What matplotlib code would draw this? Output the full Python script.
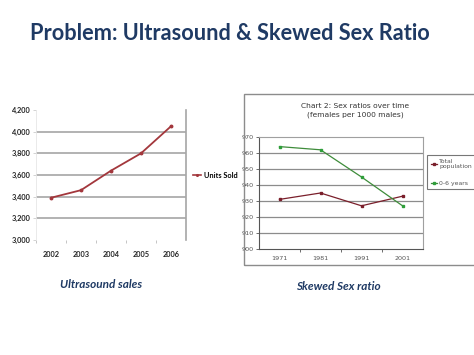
import matplotlib
matplotlib.use("Agg")
import matplotlib.pyplot as plt
from matplotlib.patches import Rectangle
from matplotlib.lines import Line2D

# Ultrasound sales
sales_years = ["2002", "2003", "2004", "2005", "2006"]
units_sold = [3390, 3460, 3640, 3800, 4050]
sales_ticks = [3000, 3200, 3400, 3600, 3800, 4000, 4200]

# Sex ratio (females per 1000 males)
census_years = ["1971", "1981", "1991", "2001"]
total_population = [931, 935, 927, 933]
age_0_6 = [964, 962, 945, 927]
ratio_ticks = [900, 910, 920, 930, 940, 950, 960, 970]

W, H = 474, 355
NAVY = "#1F3A64"
RED = "#A3373C"
GREEN = "#3E8C3A"
MAROON = "#7A1F2B"
NARROW = ["Liberation Sans Narrow", "DejaVu Sans"]

plt.rcParams["font.family"] = ["Lato", "DejaVu Sans"]

fig = plt.figure(figsize=(W / 100, H / 100), dpi=100)


def box(x0, y0, x1, y1):
    """Pixel box (top-left origin) -> figure fraction rect."""
    return [x0 / W, 1 - y1 / H, (x1 - x0) / W, (y1 - y0) / H]


fig.text(30 / W, 1 - 33 / H, "Problem: Ultrasound & Skewed Sex Ratio",
         fontsize=15.7, fontweight="bold", color=NAVY, va="center", ha="left")

# ---- left chart: ultrasound sales ----
ax1 = fig.add_axes(box(36, 110, 186, 240))
x = list(range(len(sales_years)))
ax1.plot(x, units_sold, color=RED, lw=1.3, marker="o", markersize=1.8)
ax1.set_xlim(-0.5, len(sales_years) - 0.5)
ax1.set_ylim(3000, 4200)
ax1.set_yticks(sales_ticks)
ax1.set_yticklabels([f"{v:,}" for v in sales_ticks], fontsize=5.3,
                    fontweight="bold", color="#222222")
ax1.set_xticks(x)
ax1.set_xticklabels(sales_years, fontsize=5.3, fontweight="bold", color="#222222")
ax1.set_xticks([i - 0.5 for i in x], minor=True)
ax1.tick_params(axis="x", which="major", length=0, pad=8)
ax1.tick_params(axis="x", which="minor", length=2, color="#BBBBBB", width=0.6)
ax1.tick_params(axis="y", length=2, color="#CCCCCC", width=0.6, pad=2)
for v in sales_ticks[1:-1]:
    ax1.axhline(v, color="#A6A6A6", lw=1.2, zorder=0)
for s in ["top", "bottom"]:
    ax1.spines[s].set_visible(False)
ax1.spines["left"].set_color("#E6E6E6")
ax1.spines["left"].set_linewidth(0.6)
ax1.spines["right"].set_color("#A6A6A6")
ax1.spines["right"].set_linewidth(1.2)
ax1.legend(handles=[Line2D([], [], color=RED, lw=1.2, marker="o", markersize=1.2)],
           labels=["Units Sold"], loc="center left", bbox_to_anchor=(1.0, 0.5),
           frameon=False, handlelength=1.2, handletextpad=0.3,
           prop={"weight": "bold", "size": 5.3})

fig.text(101 / W, 1 - 285 / H, "Ultrasound sales", fontsize=8.5, fontweight="bold",
         style="italic", color=NAVY, ha="center", va="center")

# ---- right chart: sex ratio ----
fig.patches.append(Rectangle((244 / W, 1 - 265 / H), (W + 5 - 244) / W, (265 - 94) / H,
                             transform=fig.transFigure, fill=False,
                             edgecolor="#8C8C8C", lw=1.0))
fig.text(355 / W, 1 - 110 / H, "Chart 2: Sex ratios over time\n(females per 1000 males)",
         fontsize=5.4, color="#333333", ha="center", va="center",
         family=NARROW, linespacing=1.5)

ax2 = fig.add_axes(box(259, 137, 423, 249))
xr = list(range(len(census_years)))
ax2.plot(xr, total_population, color=MAROON, lw=0.9, marker="s", markersize=2,
         label="Total\npopulation")
ax2.plot(xr, age_0_6, color=GREEN, lw=0.9, marker="s", markersize=2,
         mfc="#2E9E3A", mec="#2E9E3A", label="0-6 years")
ax2.set_xlim(-0.5, len(census_years) - 0.5)
ax2.set_ylim(900, 970)
ax2.set_yticks(ratio_ticks)
ax2.set_yticklabels([str(v) for v in ratio_ticks], fontsize=4.6, family=NARROW,
                    color="#555555")
ax2.set_xticks(xr)
ax2.set_xticklabels(census_years, fontsize=4.6, family=NARROW, color="#555555")
ax2.set_xticks([i - 0.5 for i in xr][1:], minor=True)
ax2.tick_params(axis="x", which="major", length=0, pad=5)
ax2.tick_params(axis="x", which="minor", length=2, width=0.6, color="#555555")
ax2.tick_params(axis="y", length=2, width=0.6, color="#555555", pad=2)
for v in ratio_ticks[1:-1]:
    ax2.axhline(v, color="#8C8C8C", lw=0.9, zorder=0)
for s in ["top", "right"]:
    ax2.spines[s].set_color("#A0A0A0")
    ax2.spines[s].set_linewidth(0.8)
for s in ["left", "bottom"]:
    ax2.spines[s].set_color("#555555")
    ax2.spines[s].set_linewidth(0.8)
leg = ax2.legend(loc="upper left", bbox_to_anchor=(1.025, 0.84),
                 frameon=True, fancybox=False, edgecolor="#555555",
                 handlelength=1.1, handletextpad=0.3, borderpad=0.6,
                 labelspacing=1.8, borderaxespad=0,
                 prop={"family": NARROW, "size": 4.4})
leg.get_frame().set_linewidth(0.8)
for t in leg.get_texts():
    t.set_color("#555555")

fig.text(338 / W, 1 - 286 / H, "Skewed Sex ratio", fontsize=8.5, fontweight="bold",
         style="italic", color=NAVY, ha="center", va="center")

fig.savefig("out.png", dpi=100, facecolor="white")
